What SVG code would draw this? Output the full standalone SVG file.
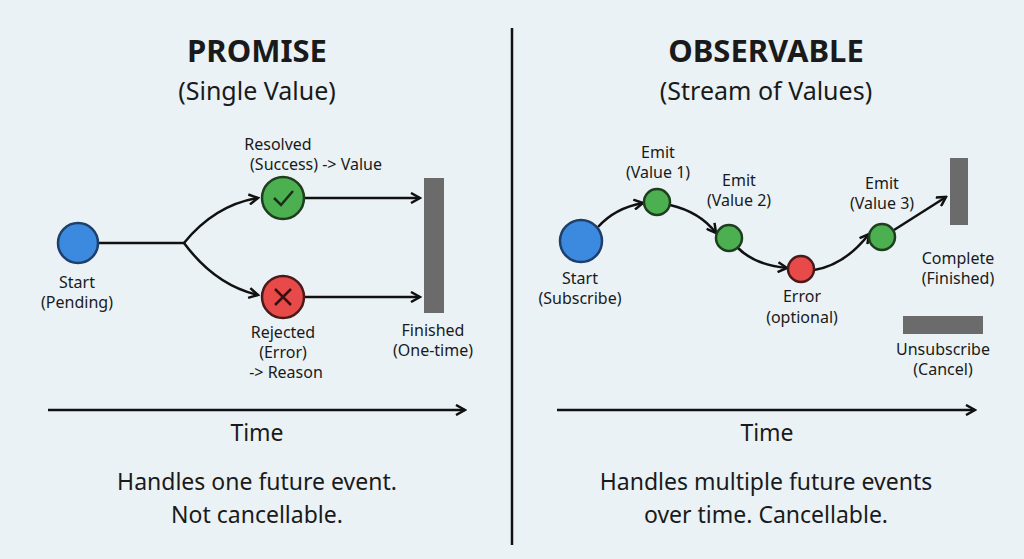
<svg xmlns="http://www.w3.org/2000/svg" width="1024" height="559" viewBox="0 0 1024 559">
<style>
text{font-family:"Noto Sans","DejaVu Sans",sans-serif;fill:#1a1a1a;text-anchor:middle}
.t{font-size:31px;font-weight:bold}
.s{font-size:25px}
.l{font-size:16px}
.b{font-size:23px}
.ln{fill:none;stroke:#111;stroke-width:2.5}
.g{fill:#4caf50;stroke:#1f3d1f;stroke-width:2.5}
.r{fill:#e84a4a;stroke:#4a1a1a;stroke-width:2.5}
.bl{fill:#3b8ae0;stroke:#1d3f6a;stroke-width:2.5}
.bar{fill:#6b6b6b}
</style>
<defs>
<marker id="a" markerWidth="12" markerHeight="12" refX="10" refY="6" orient="auto" markerUnits="userSpaceOnUse">
<path d="M1,1 L10,6 L1,11" fill="none" stroke="#111" stroke-width="2.5"/>
</marker>
</defs>
<rect width="1024" height="559" fill="#eaf2f6"/>
<line x1="512" y1="28" x2="512" y2="545" stroke="#111" stroke-width="2.5"/>
<g id="titles">
<text class="t" x="257" y="62">PROMISE</text>
<text class="s" x="257" y="100">(Single Value)</text>
<text class="t" x="766" y="62">OBSERVABLE</text>
<text class="s" x="766" y="100">(Stream of Values)</text>
</g>
<g id="connectors">
<path class="ln" d="M98,243 H184"/>
<path class="ln" d="M184,243 Q215,205 258,198" marker-end="url(#a)"/>
<path class="ln" d="M184,243 Q215,285 258,295" marker-end="url(#a)"/>
<path class="ln" d="M305,198 H420" marker-end="url(#a)"/>
<path class="ln" d="M305,297 H420" marker-end="url(#a)"/>
<path class="ln" d="M48,410 H465" marker-end="url(#a)"/>
<path class="ln" d="M598,227 Q615,208 643,203" marker-end="url(#a)"/>
<path class="ln" d="M670,205 Q700,212 716,233" marker-end="url(#a)"/>
<path class="ln" d="M738,248 Q755,265 787,268" marker-end="url(#a)"/>
<path class="ln" d="M814,270 Q845,265 869,234" marker-end="url(#a)"/>
<path class="ln" d="M894,230 L946,197" marker-end="url(#a)"/>
<path class="ln" d="M557,410 H975" marker-end="url(#a)"/>
</g>
<g id="p-start"><circle class="bl" cx="78" cy="243" r="20"/><text class="l" x="77" y="288">Start</text><text class="l" x="77" y="308">(Pending)</text></g>
<g id="p-resolved"><circle class="g" cx="283" cy="198" r="21"/><path d="M274,198 L281,205 L293,191" fill="none" stroke="#1a2e1a" stroke-width="2.5"/><text class="l" x="278" y="150">Resolved</text><text class="l" x="316" y="170">(Success) -&gt; Value</text></g>
<g id="p-rejected"><circle class="r" cx="283" cy="297" r="21"/><path d="M275,289 L291,305 M291,289 L275,305" stroke="#3a1010" stroke-width="2.5"/><text class="l" x="283" y="338">Rejected</text><text class="l" x="283" y="358">(Error)</text><text class="l" x="286" y="378">-&gt; Reason</text></g>
<g id="p-finished"><rect class="bar" x="424" y="178" width="20" height="135"/><text class="l" x="433" y="336">Finished</text><text class="l" x="433" y="356">(One-time)</text></g>
<g id="o-start"><circle class="bl" cx="581" cy="241" r="21"/><text class="l" x="580" y="284">Start</text><text class="l" x="580" y="304">(Subscribe)</text></g>
<g id="o-v1"><circle class="g" cx="657" cy="202" r="13"/><text class="l" x="658" y="158">Emit</text><text class="l" x="658" y="178">(Value 1)</text></g>
<g id="o-v2"><circle class="g" cx="729" cy="238" r="13"/><text class="l" x="739" y="186">Emit</text><text class="l" x="739" y="206">(Value 2)</text></g>
<g id="o-err"><circle class="r" cx="801" cy="269" r="13"/><text class="l" x="802" y="302">Error</text><text class="l" x="802" y="323">(optional)</text></g>
<g id="o-v3"><circle class="g" cx="882" cy="237" r="13"/><text class="l" x="882" y="189">Emit</text><text class="l" x="882" y="209">(Value 3)</text></g>
<g id="o-complete"><rect class="bar" x="950" y="158" width="18" height="67"/><text class="l" x="958" y="264">Complete</text><text class="l" x="958" y="284">(Finished)</text></g>
<g id="o-unsub"><rect class="bar" x="903" y="316" width="80" height="18"/><text class="l" x="943" y="355">Unsubscribe</text><text class="l" x="943" y="375">(Cancel)</text></g>
<g id="footer">
<text class="b" x="257" y="441">Time</text>
<text class="b" x="767" y="441">Time</text>
<text class="b" x="257" y="490">Handles one future event.</text>
<text class="b" x="257" y="523">Not cancellable.</text>
<text class="b" x="766" y="490">Handles multiple future events</text>
<text class="b" x="766" y="523">over time. Cancellable.</text>
</g>
</svg>
